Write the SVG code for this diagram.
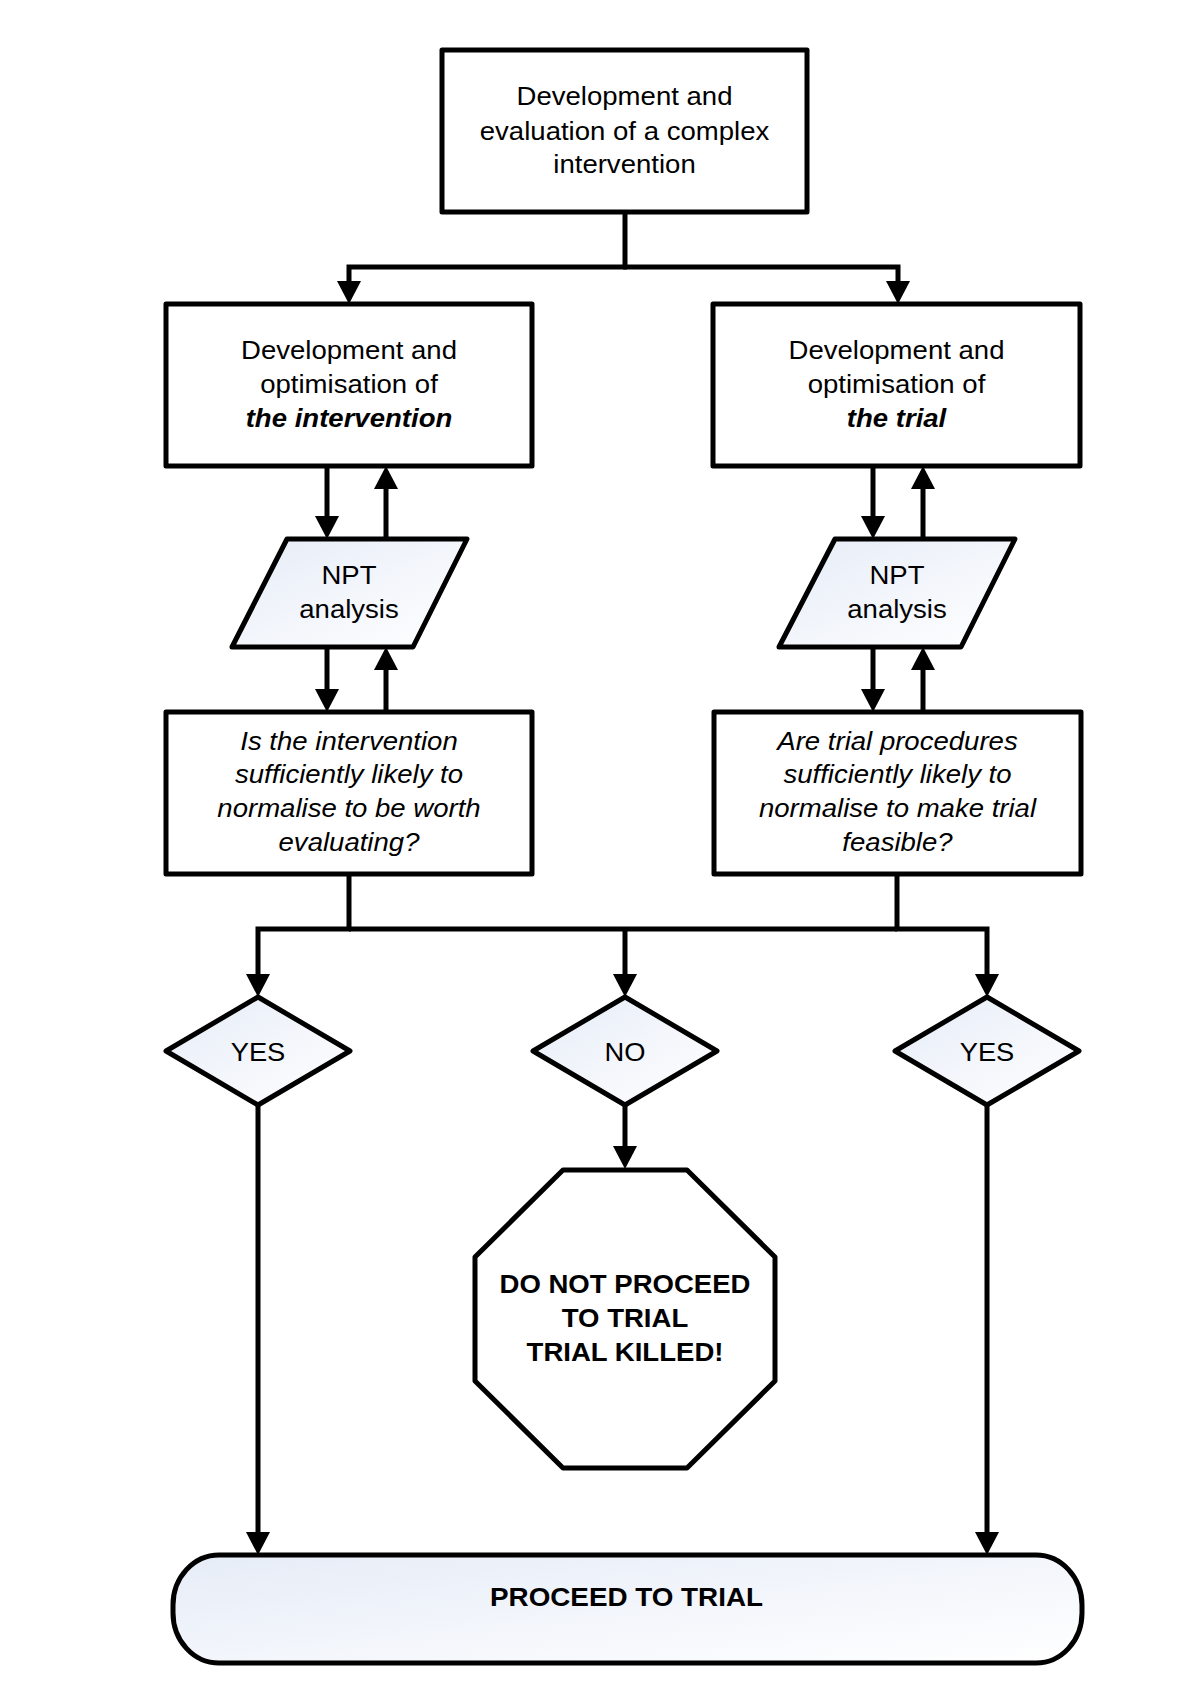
<svg xmlns="http://www.w3.org/2000/svg" width="1200" height="1683" viewBox="0 0 1200 1683">
  <style>
    .shape { stroke: #000; stroke-width: 5; stroke-linejoin: round; }
    .box { fill: #fff; }
    .grad { fill: url(#g1); }
    .conn { fill: none; stroke: #000; stroke-width: 5; stroke-linejoin: miter; }
    text { font-family: "Liberation Sans", Arial, sans-serif; fill: #000; text-anchor: middle; }
    .t { font-size: 26px; }
    .it { font-style: italic; }
    .b { font-weight: bold; }
    .yn { font-size: 26.5px; }
    .pt { font-size: 26.5px; font-weight: bold; }
  </style>
  <defs>
    <linearGradient id="g1" x1="0" y1="0" x2="1" y2="1">
      <stop offset="0" stop-color="#e6ecf7"/>
      <stop offset="1" stop-color="#ffffff"/>
    </linearGradient>
    <marker id="ah" markerUnits="userSpaceOnUse" markerWidth="26" markerHeight="26" refX="2" refY="12" orient="auto" viewBox="0 0 26 26">
      <path d="M0,0 L23,12 L0,24 z" fill="#000"/>
    </marker>
  </defs>
  <rect width="1200" height="1683" fill="#fff"/>

  <g id="connectors">
    <path class="conn" d="M625,212 V267"/>
    <path class="conn" d="M627,267 H349 V283" marker-end="url(#ah)"/>
    <path class="conn" d="M623,267 H898 V283" marker-end="url(#ah)"/>

    <path class="conn" d="M327,466 V518" marker-end="url(#ah)"/>
    <path class="conn" d="M386,539 V487" marker-end="url(#ah)"/>
    <path class="conn" d="M327,647 V691" marker-end="url(#ah)"/>
    <path class="conn" d="M386,712 V668" marker-end="url(#ah)"/>

    <path class="conn" d="M873,466 V518" marker-end="url(#ah)"/>
    <path class="conn" d="M923,539 V487" marker-end="url(#ah)"/>
    <path class="conn" d="M873,647 V691" marker-end="url(#ah)"/>
    <path class="conn" d="M923,712 V668" marker-end="url(#ah)"/>

    <path class="conn" d="M349,874 V929"/>
    <path class="conn" d="M897,874 V929"/>
    <path class="conn" d="M351,929 H258 V976" marker-end="url(#ah)"/>
    <path class="conn" d="M895,929 H987 V976" marker-end="url(#ah)"/>
    <path class="conn" d="M349,929 H897"/>
    <path class="conn" d="M625,929 V976" marker-end="url(#ah)"/>

    <path class="conn" d="M258,1105 V1534" marker-end="url(#ah)"/>
    <path class="conn" d="M987,1105 V1534" marker-end="url(#ah)"/>
    <path class="conn" d="M625,1106 V1148" marker-end="url(#ah)"/>
  </g>

  <g id="n-top">
    <rect class="shape box" x="442" y="50" width="365" height="162"/>
    <g transform="translate(624.5 0) scale(1.06 1)">
      <text class="t" x="0" y="105">Development and</text>
      <text class="t" x="0" y="140">evaluation of a complex</text>
      <text class="t" x="0" y="173">intervention</text>
    </g>
  </g>

  <g id="n-dev-intervention">
    <rect class="shape box" x="166" y="304" width="366" height="162"/>
    <g transform="translate(349 0) scale(1.06 1)">
      <text class="t" x="0" y="359">Development and</text>
      <text class="t" x="0" y="393">optimisation of</text>
      <text class="t it b" x="0" y="427">the intervention</text>
    </g>
  </g>

  <g id="n-dev-trial">
    <rect class="shape box" x="713" y="304" width="367" height="162"/>
    <g transform="translate(896.5 0) scale(1.06 1)">
      <text class="t" x="0" y="359">Development and</text>
      <text class="t" x="0" y="393">optimisation of</text>
      <text class="t it b" x="0" y="427">the trial</text>
    </g>
  </g>

  <g id="n-npt-left">
    <polygon class="shape grad" points="287,539 467,539 413,647 232,647"/>
    <g transform="translate(349 0) scale(1.06 1)">
      <text class="t" x="0" y="584">NPT</text>
      <text class="t" x="0" y="618">analysis</text>
    </g>
  </g>

  <g id="n-npt-right">
    <polygon class="shape grad" points="835,539 1015,539 961,647 779,647"/>
    <g transform="translate(897 0) scale(1.06 1)">
      <text class="t" x="0" y="584">NPT</text>
      <text class="t" x="0" y="618">analysis</text>
    </g>
  </g>

  <g id="n-q-intervention">
    <rect class="shape box" x="166" y="712" width="366" height="162"/>
    <g transform="translate(349 0) scale(1.06 1)">
      <text class="t it" x="0" y="750">Is the intervention</text>
      <text class="t it" x="0" y="783">sufficiently likely to</text>
      <text class="t it" x="0" y="817">normalise to be worth</text>
      <text class="t it" x="0" y="851">evaluating?</text>
    </g>
  </g>

  <g id="n-q-trial">
    <rect class="shape box" x="714" y="712" width="367" height="162"/>
    <g transform="translate(897.5 0) scale(1.06 1)">
      <text class="t it" x="0" y="750">Are trial procedures</text>
      <text class="t it" x="0" y="783">sufficiently likely to</text>
      <text class="t it" x="0" y="817">normalise to make trial</text>
      <text class="t it" x="0" y="851">feasible?</text>
    </g>
  </g>

  <g id="n-yes-left">
    <polygon class="shape grad" points="258,997 350,1051 258,1105 166,1051"/>
    <g transform="translate(258 0) scale(1.03 1)">
      <text class="yn" x="0" y="1061">YES</text>
    </g>
  </g>

  <g id="n-no">
    <polygon class="shape grad" points="625,997 717,1051 625,1105 533,1051"/>
    <g transform="translate(625 0) scale(1.03 1)">
      <text class="yn" x="0" y="1061">NO</text>
    </g>
  </g>

  <g id="n-yes-right">
    <polygon class="shape grad" points="987,997 1079,1051 987,1105 895,1051"/>
    <g transform="translate(987 0) scale(1.03 1)">
      <text class="yn" x="0" y="1061">YES</text>
    </g>
  </g>

  <g id="n-stop">
    <polygon class="shape box" points="563,1170 687,1170 775,1257 775,1381 687,1468 563,1468 475,1381 475,1257"/>
    <g transform="translate(625 0) scale(1.06 1)">
      <text class="t b" x="0" y="1293">DO NOT PROCEED</text>
      <text class="t b" x="0" y="1327">TO TRIAL</text>
      <text class="t b" x="0" y="1361">TRIAL KILLED!</text>
    </g>
  </g>

  <g id="n-proceed">
    <rect class="shape grad" x="173" y="1555" width="909" height="108" rx="46" ry="50"/>
    <g transform="translate(626.5 0) scale(1.05 1)">
      <text class="pt" x="0" y="1606">PROCEED TO TRIAL</text>
    </g>
  </g>
</svg>
